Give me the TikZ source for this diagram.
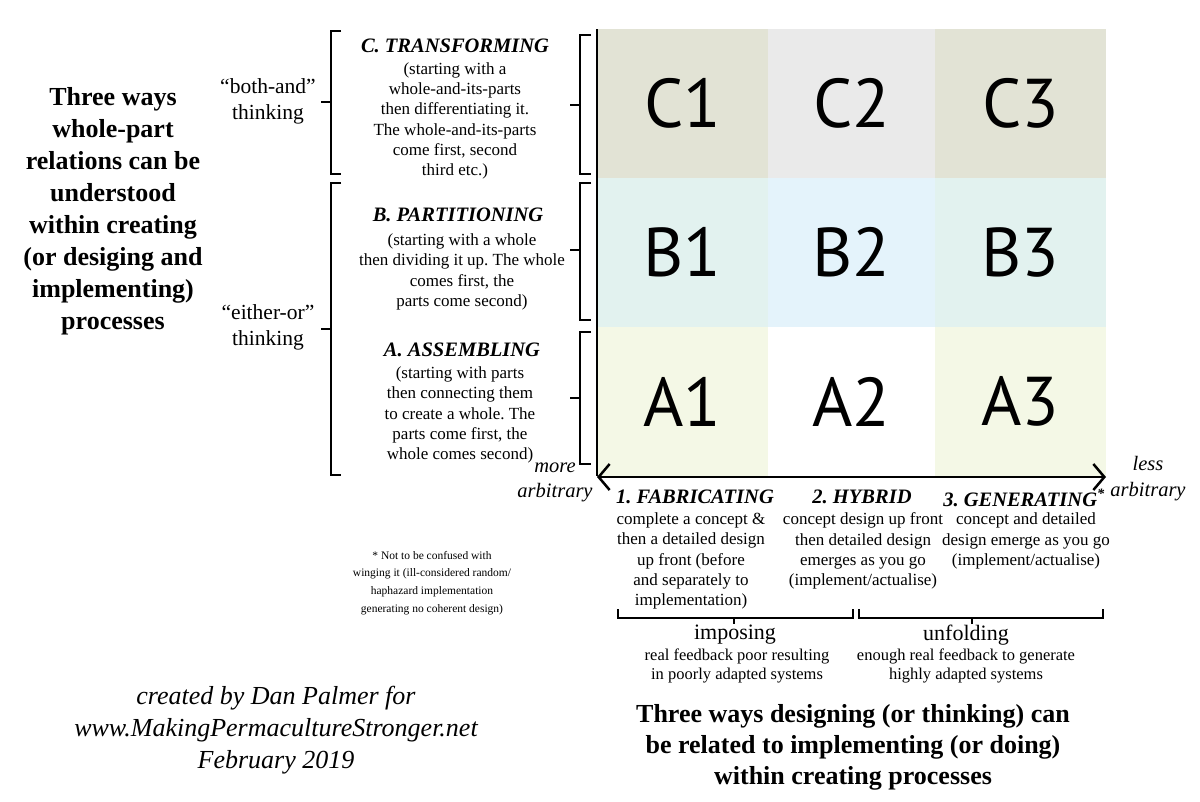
\documentclass[tikz,border=0pt]{standalone}
\usepackage{fontspec}
\setmainfont{Liberation Serif}
\newfontfamily\cellfont{PT Sans}
\usetikzlibrary{arrows.meta}
\newcommand{\fs}[2]{\fontsize{#1}{#2}\selectfont}
\frenchspacing
\begin{document}
\begin{tikzpicture}[x=1pt,y=-1pt,
  txt/.style={inner sep=0pt, align=center, text=black},
  body/.style={txt, font=\fs{17}{20.2}\frenchspacing},
  head/.style={txt, font=\fs{20.5}{22}\bfseries\itshape\frenchspacing},
  cell/.style={draw=none, minimum width=#1, minimum height=149.6pt, inner sep=0pt, font=\cellfont\fs{69}{69}},
  brk/.style={line width=1.6pt, line cap=butt},
  axis/.style={line width=2.5pt}
]
\useasboundingbox (0,0) rectangle (1200,801);
\fill[white] (0,0) rectangle (1200,801);

% grid cells
\definecolor{cOne}{HTML}{E2E3D5}
\definecolor{cTwo}{HTML}{EAEAEA}
\definecolor{bOne}{HTML}{E2F2EF}
\definecolor{bTwo}{HTML}{E4F3FB}
\definecolor{aOne}{HTML}{F4F8E6}
\node[cell=171.6pt, fill=cOne] (C1) at (682.5,103.5) {C1};
\node[cell=167.6pt, fill=cTwo] (C2) at (851.5,103.5) {C2};
\node[cell=171.6pt, fill=cOne] (C3) at (1020.5,103.5) {C3};
\node[cell=171.6pt, fill=bOne] (B1) at (682.5,252.5) {B1};
\node[cell=167.6pt, fill=bTwo] (B2) at (851.5,252.5) {B2};
\node[cell=171.6pt, fill=bOne] (B3) at (1020.5,252.5) {B3};
\node[cell=171.6pt, fill=aOne] (A1) at (682.5,401.5) {A1};
\node[cell=167.6pt, fill=white] (A2) at (851.5,401.5) {A2};
\node[cell=171.6pt, fill=aOne] (A3) at (1020.5,401.5) {A3};

% axes
\coordinate (top) at (597,29);
\coordinate (org) at (597,477);
\coordinate (rgt) at (1106,477);
\draw[axis] (top) -- (597,476);
\draw[axis, {Straight Barb[length=11pt,width=26pt]}-{Straight Barb[length=11pt,width=26pt]}] (org) -- (rgt);

% left title
\node[txt, font=\fs{26}{32}\bfseries] (title) at (113,211) {Three ways\\whole-part\\relations can be\\understood\\within creating\\(or desiging and\\implementing)\\processes};

% thinking labels
\node[txt, font=\fs{21.5}{26}] (both) at (268,101) {“both-and”\\thinking};
\node[txt, font=\fs{21.5}{26}] (either) at (268,327) {“either-or”\\thinking};

% left brackets
\draw[brk] (341,31) -- (331,31) -- (331,174) -- (341,174);
\draw[brk] (321,102) -- (331,102);
\draw[brk] (341,183) -- (331,183) -- (331,475) -- (341,475);
\draw[brk] (321,329) -- (331,329);

% right brackets
\draw[brk] (591,35) -- (580,35) -- (580,174) -- (591,174);
\draw[brk] (570,105) -- (580,105);
\draw[brk] (591,183) -- (580,183) -- (580,320) -- (591,320);
\draw[brk] (570,250) -- (580,250);
\draw[brk] (591,332) -- (580,332) -- (580,464) -- (591,464);
\draw[brk] (570,398) -- (580,398);

% row texts
\node[head] (Chead) at (455,46) {C. TRANSFORMING};
\node[body] (Cbody) at (455,121) {(starting with a\\whole-and-its-parts\\then differentiating it.\\The whole-and-its-parts\\come first, second\\third etc.)};
\node[head] (Bhead) at (458,215) {B. PARTITIONING};
\node[body] (Bbody) at (462,272) {(starting with a whole\\then dividing it up. The whole\\comes first, the\\parts come second)};
\node[head] (Ahead) at (462,350) {A. ASSEMBLING};
\node[body] (Abody) at (460,415) {(starting with parts\\then connecting them\\to create a whole. The\\parts come first, the\\whole comes second)};

% arbitrary labels
\node[txt, font=\fs{20.5}{25}\itshape] (more) at (555,482) {more\\arbitrary};
\node[txt, font=\fs{20.5}{26}\itshape] (less) at (1148,479) {less\\arbitrary};

% column texts
\node[head] (h1) at (695,497) {1. FABRICATING};
\node[body] (b1) at (691,561) {complete a concept \&\\then a detailed design\\up front (before\\and separately to\\implementation)};
\node[head] (h2) at (862,497) {2. HYBRID};
\node[body] (b2) at (863,551) {concept design up front\\then detailed design\\emerges as you go\\(implement/actualise)};
\node[head] (h3) at (1024,498) {3. GENERATING\textsuperscript{*}};
\node[body] (b3) at (1026,541) {concept and detailed\\design emerge as you go\\(implement/actualise)};

% footnote
\node[txt, font=\fs{11.5}{17.8}] (note) at (432,583) {* Not to be confused with\\winging it (ill-considered random/\\haphazard implementation\\generating no coherent design)};

% bottom brackets
\draw[brk] (618,609) -- (618,618) -- (853,618) -- (853,609);
\draw[brk] (734,618) -- (734,624);
\draw[brk] (859,609) -- (859,618) -- (1103,618) -- (1103,609);
\draw[brk] (972,618) -- (972,624);

\node[txt, font=\fs{22}{24}] (imp) at (735,635) {imposing};
\node[txt, font=\fs{16.5}{19}] (impb) at (737,666) {real feedback poor resulting\\in poorly adapted systems};
\node[txt, font=\fs{22}{24}] (unf) at (966,635) {unfolding};
\node[txt, font=\fs{16.5}{19}] (unfb) at (966,666) {enough real feedback to generate\\highly adapted systems};

% bottom title
\node[txt, font=\fs{26}{31}\bfseries] (btitle) at (853,747) {Three ways designing (or thinking) can\\be related to implementing (or doing)\\within creating processes};

% credits
\node[txt, font=\fs{26}{32}\itshape] (credit) at (276,730) {created by Dan Palmer for\\www.MakingPermacultureStronger.net\\February 2019};
\end{tikzpicture}
\end{document}
